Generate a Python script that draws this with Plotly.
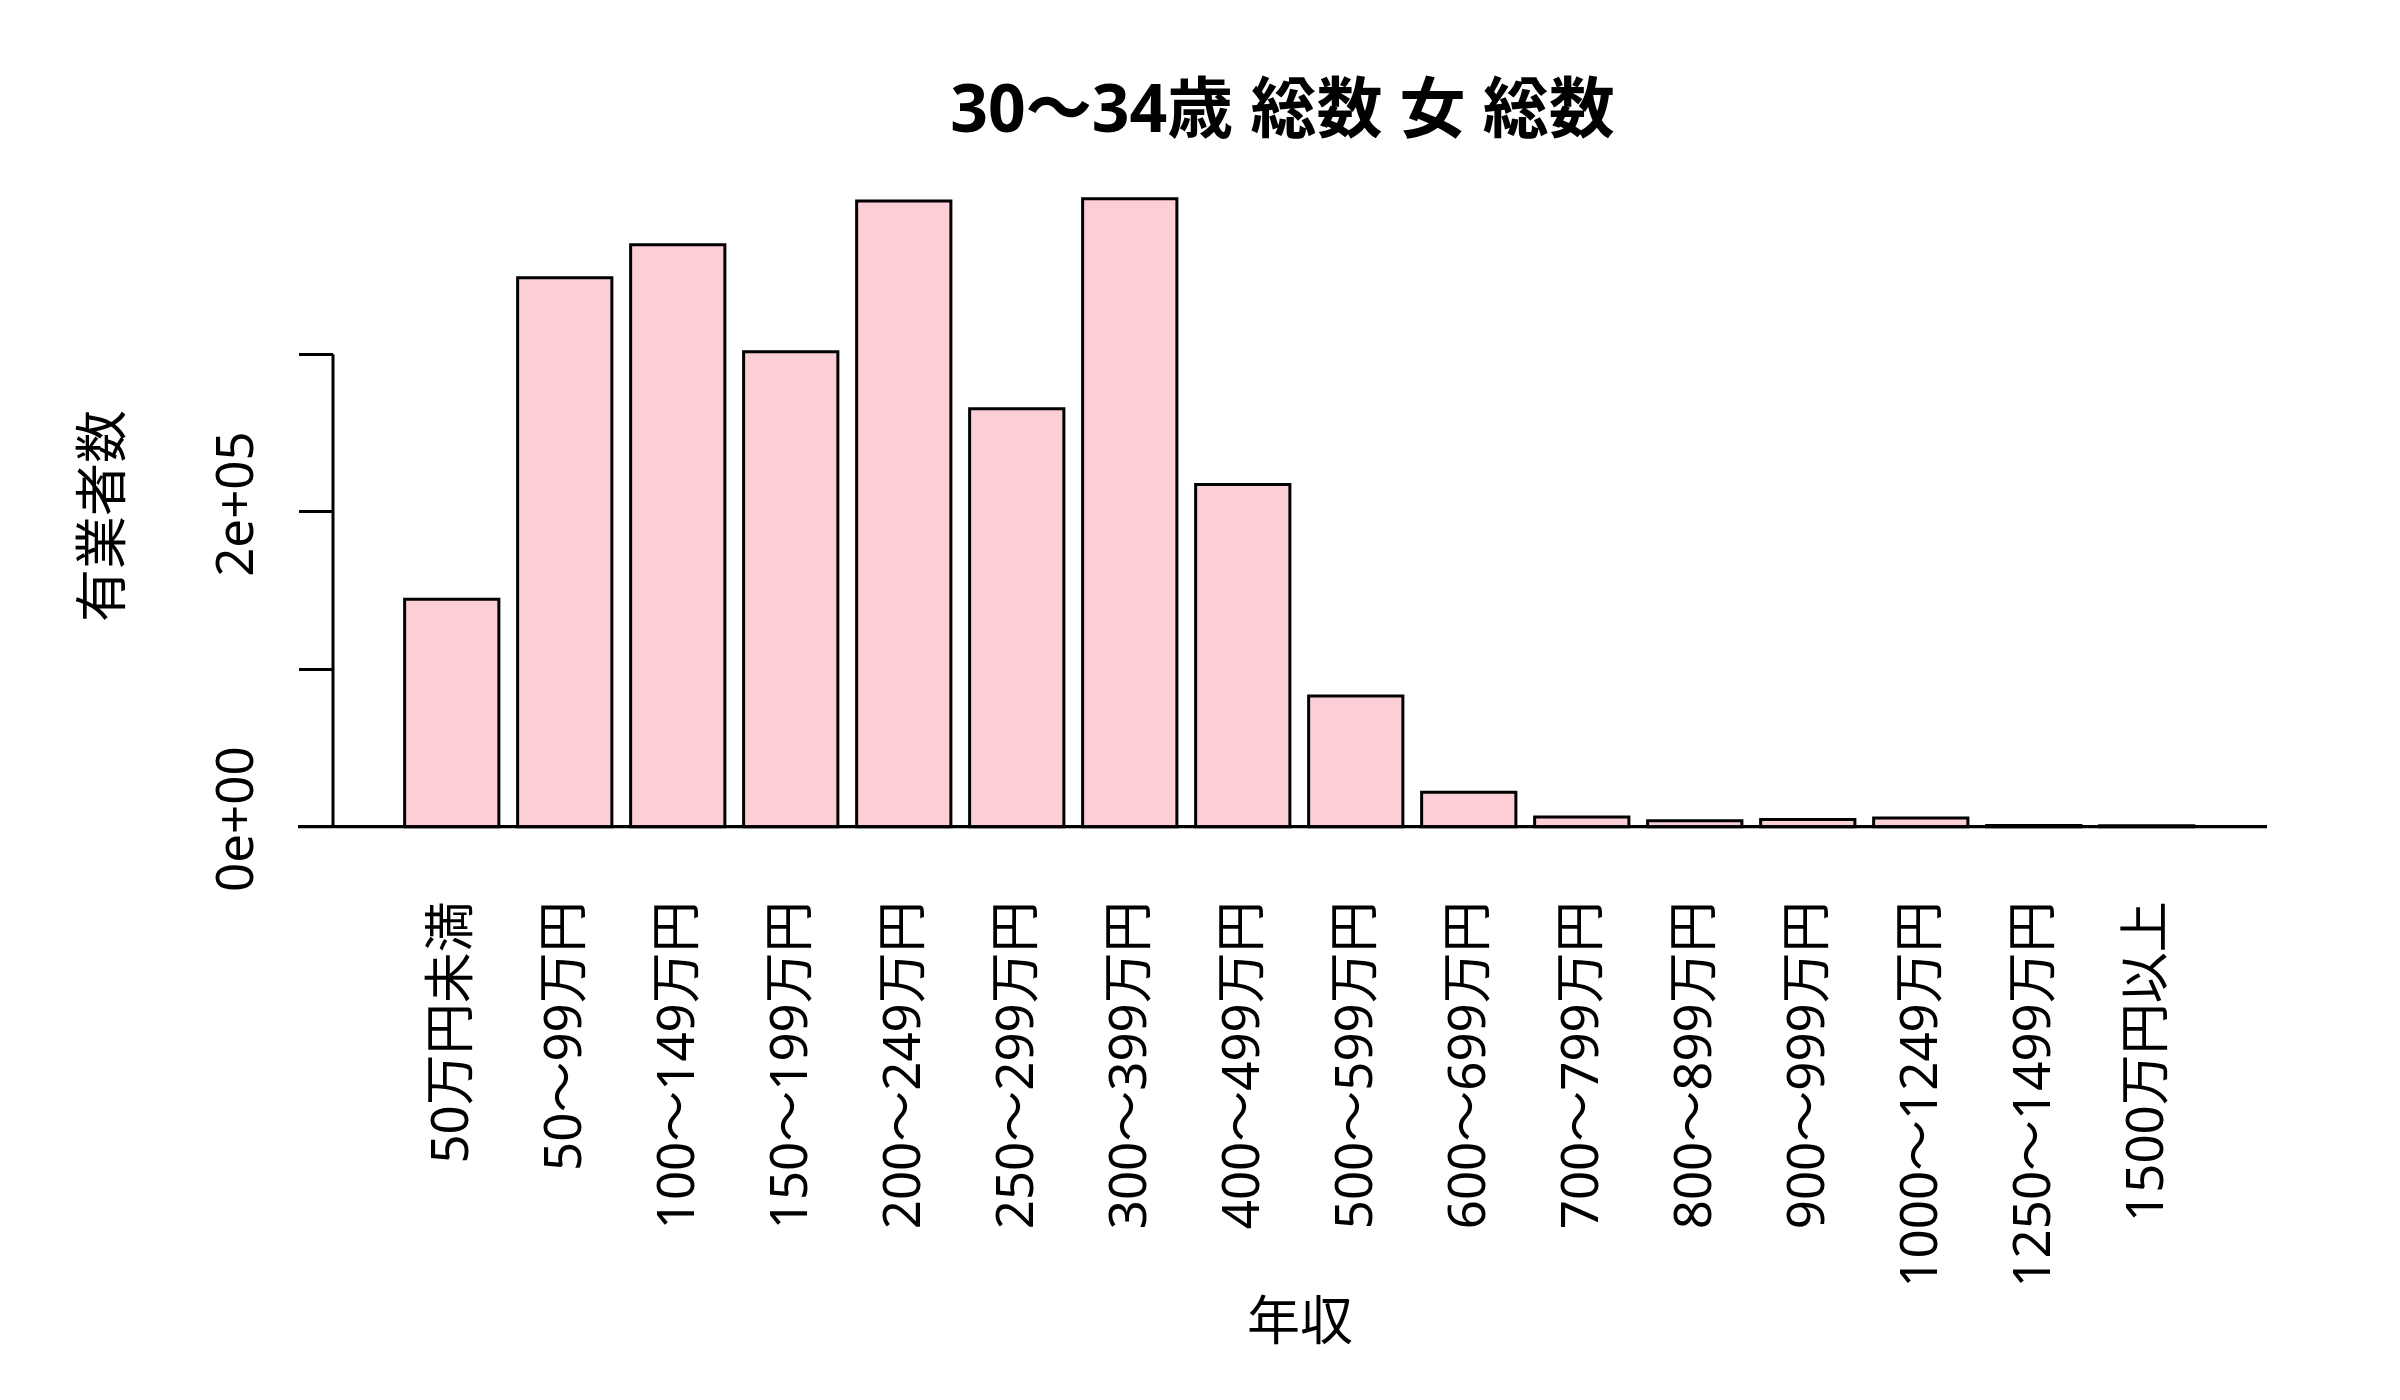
import plotly.graph_objects as go

# ---- data ----
categories = [
    "50万円未満", "50～99万円", "100～149万円", "150～199万円", "200～249万円",
    "250～299万円", "300～399万円", "400～499万円", "500～599万円", "600～699万円",
    "700～799万円", "800～899万円", "900～999万円", "1000～1249万円", "1250～1499万円",
    "1500万円以上",
]
values = [144400, 348500, 369500, 301500, 397300, 265400, 398700, 217200,
          83100, 21900, 6200, 3900, 4600, 5600, 800, 600]
y_tick_vals = [0, 100000, 200000, 300000]
y_tick_text = ["0e+00", "", "2e+05", ""]

title_text = "30～34歳 総数 女 総数"
x_title = "年収"
y_title = "有業者数"

# ---- layout geometry (pixels, figure coords = page coords - 8px body margin) ----
OFF = 8
W, H = 2400 - 2 * OFF, 1400 - 2 * OFF
L = 298 - OFF
T = 173 - OFF
plot_right = 2267 - OFF
plot_bottom = 852 - OFF
R = W - plot_right
B = H - plot_bottom
plot_w = W - L - R
plot_h = H - T - B
FONT = "Noto Sans, Noto Sans CJK KR"
yaxis_pos = (333 - OFF - L) / plot_w


def px_x(p):
    return (p - OFF - L) / plot_w


def px_y(p):
    return (plot_bottom - (p - OFF)) / plot_h


fig = go.Figure()
fig.add_trace(go.Bar(
    x=categories, y=values, width=0.834,
    marker=dict(color="#FCCED6", line=dict(color="black", width=3)),
))

fig.update_layout(
    width=W, height=H,
    margin=dict(l=L, r=R, t=T, b=B, autoexpand=False),
    paper_bgcolor="white", plot_bgcolor="white",
    showlegend=False,
    font=dict(family=FONT, size=51, color="black"),
    title=dict(text=title_text, x=0.5, xref="paper", xanchor="center",
               y=1 - (109 - OFF) / H, yref="container", yanchor="middle",
               font=dict(family=FONT, size=66, color="black", weight=700)),
    xaxis=dict(
        type="category", range=[-1.3606, 16.064], domain=[0, 1],
        showgrid=False, showline=False, zeroline=False,
        ticks="", tickangle=-90, ticklabelstandoff=38,
        tickfont=dict(family=FONT, size=51, color="black"),
        automargin=False,
    ),
    yaxis=dict(
        range=[-16000, 415000], anchor="free", position=yaxis_pos,
        showgrid=False, showline=False,
        zeroline=True, zerolinecolor="black", zerolinewidth=3,
        tickmode="array", tickvals=y_tick_vals, ticktext=y_tick_text,
        ticks="outside", ticklen=34, tickwidth=3, tickcolor="black",
        tickangle=-90, ticklabelstandoff=26,
        tickfont=dict(family=FONT, size=51, color="black"),
        automargin=False,
    ),
    annotations=[
        dict(text=y_title, textangle=-90, xref="paper", yref="paper",
             x=px_x(100), y=px_y(516),
             xanchor="center", yanchor="middle", showarrow=False,
             font=dict(family=FONT, size=53, color="black")),
        dict(text=x_title, xref="paper", yref="paper",
             x=px_x(1300), y=px_y(1319),
             xanchor="center", yanchor="middle", showarrow=False,
             font=dict(family=FONT, size=53, color="black")),
    ],
    shapes=[
        dict(type="line", xref="paper", yref="y",
             x0=yaxis_pos, x1=yaxis_pos, y0=y_tick_vals[0], y1=y_tick_vals[-1],
             line=dict(color="black", width=3)),
        dict(type="line", xref="paper", yref="y",
             x0=0, x1=1, y0=0, y1=0,
             line=dict(color="black", width=3)),
    ],
)

fig.write_html("out.html")
